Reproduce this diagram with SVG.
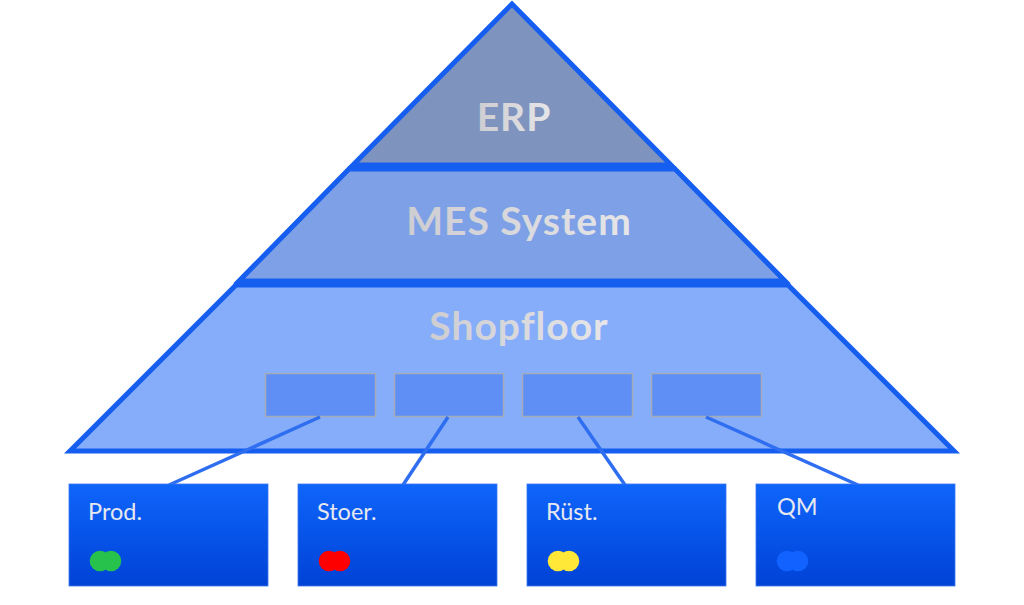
<svg xmlns="http://www.w3.org/2000/svg" width="1024" height="605" viewBox="0 0 1024 605">
<defs>
<linearGradient id="nodeGrad" x1="0" y1="0" x2="0" y2="1">
<stop offset="0" stop-color="#0f65fb"/>
<stop offset="1" stop-color="#0042d6"/>
</linearGradient>
<linearGradient id="txtGrad" x1="0" y1="0" x2="1" y2="0">
<stop offset="0" stop-color="#cdcdd2"/>
<stop offset="1" stop-color="#e6e6e8"/>
</linearGradient>
</defs>
<style>
.band{stroke:#155ef0;stroke-width:5;stroke-linejoin:miter}
.title{font-family:Lato,"Liberation Sans",sans-serif;font-weight:bold;font-size:39px;letter-spacing:1px;fill:url(#txtGrad);text-anchor:middle}
.slot{fill:#5f8ff5;stroke:#a3abbb;stroke-width:1.5}
.conn{stroke:#2f6ef0;stroke-width:3.5;fill:none}
.node{fill:url(#nodeGrad);stroke:#3a78f0;stroke-width:0.8}
.label{font-family:Lato,"Liberation Sans",sans-serif;font-size:23.5px;fill:#e6e8f0}
</style>
<rect width="1024" height="605" fill="#ffffff"/>
<g id="erp">
<polygon class="band" points="512,4 353,165 671,165" fill="#7f93bf"/>
<text class="title" x="514" y="131">ERP</text>
</g>
<g id="mes">
<polygon class="band" points="349,169 675,169 785,281 239,281" fill="#7ea0e6"/>
<text class="title" x="519" y="235">MES System</text>
</g>
<g id="shopfloor">
<polygon class="band" points="236,285 788,285 954,451 70,451" fill="#85adfa"/>
<text class="title" x="519" y="340">Shopfloor</text>
<rect class="slot" x="265.5" y="373.5" width="110" height="43"/>
<rect class="slot" x="394.5" y="373.5" width="109" height="43"/>
<rect class="slot" x="522.5" y="373.5" width="110" height="43"/>
<rect class="slot" x="651.5" y="373.5" width="110" height="43"/>
</g>
<g id="connectors">
<line class="conn" x1="320" y1="417" x2="169" y2="485"/>
<line class="conn" x1="448" y1="417" x2="403" y2="485"/>
<line class="conn" x1="578" y1="417" x2="625" y2="485"/>
<line class="conn" x1="706" y1="417" x2="858" y2="485"/>
</g>
<g id="prod">
<rect class="node" x="69" y="484" width="199" height="102"/>
<text class="label" x="88" y="520">Prod.</text>
<circle cx="100" cy="561" r="10.3" fill="#27c24b"/>
<circle cx="111" cy="561" r="10.3" fill="#27c24b"/>
</g>
<g id="stoer">
<rect class="node" x="298" y="484" width="199" height="102"/>
<text class="label" x="317" y="520">Stoer.</text>
<circle cx="329" cy="561" r="10.3" fill="#ff0000"/>
<circle cx="340" cy="561" r="10.3" fill="#ff0000"/>
</g>
<g id="ruest">
<rect class="node" x="527" y="484" width="199" height="102"/>
<text class="label" x="546" y="520">Rüst.</text>
<circle cx="558" cy="561" r="10.3" fill="#ffe838"/>
<circle cx="569" cy="561" r="10.3" fill="#ffe838"/>
</g>
<g id="qm">
<rect class="node" x="756" y="484" width="199" height="102"/>
<text class="label" x="777" y="515">QM</text>
<circle cx="787" cy="561" r="10.3" fill="#1162ff"/>
<circle cx="798" cy="561" r="10.3" fill="#1162ff"/>
</g>
</svg>
